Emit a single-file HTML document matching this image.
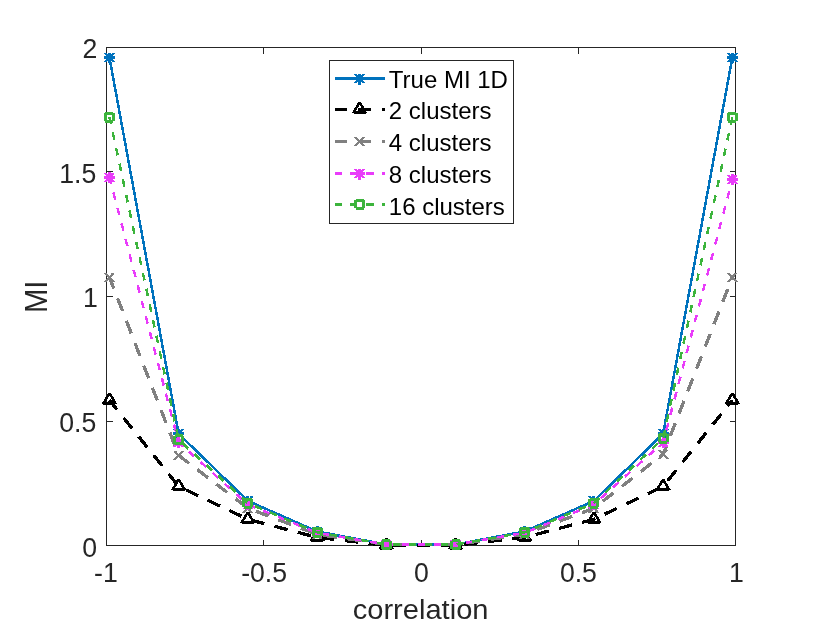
<!DOCTYPE html>
<html><head><meta charset="utf-8"><title>MI vs correlation</title>
<style>
html,body{margin:0;padding:0;background:#fff;}
svg{display:block;}
text{font-family:"Liberation Sans",Arial,Helvetica,sans-serif;fill:#262626;}
.tk{font-size:26.67px;}
.lb{font-size:29.33px;}
.lg{font-size:24px;fill:#000;}
</style></head><body>
<svg width="813" height="626" viewBox="0 0 813 626">
<defs>
<path id="mstar" d="M-5.4,-1.5 H5.4 V1.5 H-5.4ZM-1.5,-5 H1.5 V5.7 H-1.5ZM-5.6,-4.4 L-2.6,-4.4 L5.6,4.4 L2.6,4.4ZM2.6,-4.4 L5.6,-4.4 L-2.6,4.4 L-5.6,4.4Z"/>
<path id="mstar2" d="M-5.4,-1.5 H5.4 V1.5 H-5.4ZM-1.5,-4.4 H1.5 V6.3 H-1.5ZM-5.6,-4.4 L-2.6,-4.4 L5.6,4.4 L2.6,4.4ZM2.6,-4.4 L5.6,-4.4 L-2.6,4.4 L-5.6,4.4Z"/>
<path id="mtri" d="M-6,1.65 L6,1.65 L6,4.65 L-6,4.65ZM-1.5,-7.1 L1.5,-7.1 L-4.79,3.65 L-7.79,3.65ZM-1.5,-7.1 L1.5,-7.1 L7.79,3.65 L4.79,3.65Z"/>
<path id="mx" d="M-5.6,-4.4 L-2.6,-4.4 L5.6,4.4 L2.6,4.4ZM2.6,-4.4 L5.6,-4.4 L-2.6,4.4 L-5.6,4.4Z"/>
<path id="msq" d="M-4,-5.5 H4 V-2.5 H-4ZM-4,2.5 H4 V5.5 H-4ZM-5.5,-4 H-2.5 V4 H-5.5ZM2.5,-4 H5.5 V4 H2.5Z"/>
</defs>
<rect width="813" height="626" fill="#fff"/>

<g shape-rendering="crispEdges" stroke="#262626" stroke-width="1" fill="none">
<rect x="106.5" y="47.5" width="629.0" height="498.0"/>
<path d="M263.5,545.5 v-6 M263.5,47.5 v6"/>
<path d="M421.5,545.5 v-6 M421.5,47.5 v6"/>
<path d="M578.5,545.5 v-6 M578.5,47.5 v6"/>
<path d="M106.5,171.5 h6 M735.5,171.5 h-6"/>
<path d="M106.5,296.5 h6 M735.5,296.5 h-6"/>
<path d="M106.5,421.5 h6 M735.5,421.5 h-6"/>
</g>
<text class="tk" transform="translate(105.9,582) scale(1,1.04)" text-anchor="middle">-1</text>
<text class="tk" transform="translate(264.1,582) scale(1,1.04)" text-anchor="middle">-0.5</text>
<text class="tk" transform="translate(421.4,582) scale(1,1.04)" text-anchor="middle">0</text>
<text class="tk" transform="translate(578.4,582) scale(1,1.04)" text-anchor="middle">0.5</text>
<text class="tk" transform="translate(736.3,582) scale(1,1.04)" text-anchor="middle">1</text>
<text class="tk" transform="translate(97,556.7) scale(1,1.04)" text-anchor="end">0</text>
<text class="tk" transform="translate(96.2,431.8) scale(1,1.04)" text-anchor="end">0.5</text>
<text class="tk" transform="translate(97.8,307) scale(1,1.04)" text-anchor="end">1</text>
<text class="tk" transform="translate(96.2,182.6) scale(1,1.04)" text-anchor="end">1.5</text>
<text class="tk" transform="translate(97.3,58) scale(1,1.04)" text-anchor="end">2</text>
<text class="lb" style="font-size:29.1px" transform="translate(420.6,618.7) scale(1,0.98)" text-anchor="middle">correlation</text>
<text class="lb" transform="translate(47.1,296.8) rotate(-90) scale(1,1.04)" text-anchor="middle">MI</text>
<g id="data" shape-rendering="crispEdges">
<path fill="#0072BD" d="M110.68,57.32 L179.89,433.55 L177.43,434 L108.22,57.77ZM179.53,432.88 L248.74,500 L247,501.79 L177.79,434.67ZM248.37,499.75 L317.59,530.28 L316.58,532.57 L247.37,502.04ZM317.31,530.2 L386.53,543.27 L386.06,545.73 L316.85,532.66ZM386.29,543.25 L455.51,543.25 L455.51,545.75 L386.29,545.75ZM455.27,543.27 L524.49,530.2 L524.95,532.66 L455.74,545.73ZM524.21,530.28 L593.43,499.75 L594.43,502.04 L525.22,532.57ZM593.06,500 L662.27,432.88 L664.01,434.67 L594.8,501.79ZM661.91,433.55 L731.12,57.32 L733.58,57.77 L664.37,434Z"/>
<use href="#mstar" x="109.45" y="57.54" fill="#0072BD"/>
<use href="#mstar" x="178.66" y="433.78" fill="#0072BD"/>
<use href="#mstar" x="247.87" y="500.89" fill="#0072BD"/>
<use href="#mstar" x="317.08" y="531.43" fill="#0072BD"/>
<use href="#mstar" x="386.29" y="544.5" fill="#0072BD"/>
<use href="#mstar" x="455.51" y="544.5" fill="#0072BD"/>
<use href="#mstar" x="524.72" y="531.43" fill="#0072BD"/>
<use href="#mstar" x="593.93" y="500.89" fill="#0072BD"/>
<use href="#mstar" x="663.14" y="433.78" fill="#0072BD"/>
<use href="#mstar" x="732.35" y="57.54" fill="#0072BD"/>
<path fill="#000000" d="M110.74,399.16 L118.38,408.67 L115.79,410.76 L108.15,401.24ZM124.89,416.78 L133.41,427.38 L130.81,429.47 L122.3,418.86ZM139.92,435.49 L148.43,446.1 L145.84,448.18 L137.32,437.58ZM154.95,454.21 L163.46,464.81 L160.86,466.9 L152.35,456.29ZM169.97,472.92 L178.49,483.53 L175.89,485.61 L167.38,475.01ZM186.65,488.35 L198.93,494.19 L197.5,497.2 L185.22,491.36ZM208.32,498.66 L220.6,504.5 L219.17,507.5 L206.89,501.66ZM230,508.96 L242.28,514.8 L240.85,517.81 L228.57,511.97ZM251.6,518.55 L264.76,521.98 L263.92,525.21 L250.76,521.77ZM274.82,524.61 L287.98,528.04 L287.14,531.26 L273.98,527.83ZM298.04,530.66 L311.2,534.1 L310.36,537.32 L297.2,533.89ZM321.14,536.14 L334.65,537.69 L334.27,541 L320.76,539.45ZM344.98,538.88 L358.49,540.43 L358.11,543.74 L344.6,542.19ZM368.83,541.62 L382.34,543.17 L381.96,546.48 L368.45,544.93ZM392.52,543.63 L406.12,543.63 L406.12,546.96 L392.52,546.96ZM416.52,543.63 L430.12,543.63 L430.12,546.96 L416.52,546.96ZM440.52,543.63 L454.12,543.63 L454.12,546.96 L440.52,546.96ZM464.27,542.62 L477.78,541.07 L478.16,544.37 L464.65,545.93ZM488.11,539.88 L501.62,538.33 L502,541.63 L488.49,543.19ZM511.96,537.14 L524.53,535.7 L524.91,539 L512.34,540.45ZM524.3,535.74 L525.21,535.5 L526.05,538.72 L525.14,538.96ZM535.28,532.88 L548.44,529.44 L549.28,532.67 L536.12,536.1ZM558.5,526.82 L571.66,523.39 L572.5,526.61 L559.34,530.04ZM581.72,520.76 L593.51,517.69 L594.35,520.91 L582.56,523.99ZM593.22,517.8 L594.5,517.19 L595.93,520.19 L594.64,520.8ZM603.89,512.72 L616.17,506.88 L617.6,509.89 L605.32,515.73ZM625.57,502.42 L637.85,496.58 L639.28,499.59 L626.99,505.43ZM647.24,492.12 L659.52,486.28 L660.95,489.28 L648.67,495.12ZM666.34,479.75 L674.86,469.15 L677.45,471.24 L668.94,481.84ZM681.37,461.04 L689.88,450.44 L692.48,452.52 L683.96,463.13ZM696.39,442.33 L704.91,431.72 L707.51,433.81 L698.99,444.41ZM711.42,423.61 L719.94,413.01 L722.53,415.09 L714.02,425.7ZM726.45,404.9 L731.06,399.16 L733.65,401.24 L729.04,406.98Z"/>
<use href="#mtri" x="109.45" y="400.2" fill="#000000"/>
<use href="#mtri" x="178.66" y="486.4" fill="#000000"/>
<use href="#mtri" x="247.87" y="519.3" fill="#000000"/>
<use href="#mtri" x="317.08" y="537.35" fill="#000000"/>
<use href="#mtri" x="386.29" y="545.3" fill="#000000"/>
<use href="#mtri" x="455.51" y="545.3" fill="#000000"/>
<use href="#mtri" x="524.72" y="537.35" fill="#000000"/>
<use href="#mtri" x="593.93" y="519.3" fill="#000000"/>
<use href="#mtri" x="663.14" y="486.4" fill="#000000"/>
<use href="#mtri" x="732.35" y="400.2" fill="#000000"/>
<path fill="#808080" d="M111,276.7 L115.42,288.07 L112.31,289.27 L107.89,277.9ZM119.18,297.76 L124.11,310.44 L121.01,311.64 L116.08,298.97ZM127.88,320.13 L132.8,332.81 L129.7,334.02 L124.77,321.34ZM136.57,342.5 L141.5,355.18 L138.39,356.39 L133.47,343.71ZM145.26,364.87 L150.19,377.55 L147.09,378.76 L142.16,366.08ZM153.96,387.24 L158.88,399.92 L155.78,401.13 L150.85,388.45ZM162.65,409.61 L167.58,422.29 L164.47,423.5 L159.55,410.82ZM171.34,431.98 L176.27,444.66 L173.17,445.87 L168.24,433.19ZM180.04,454.35 L180.21,454.8 L177.11,456 L176.93,455.56ZM179.67,454.08 L190.1,462.04 L188.08,464.68 L177.65,456.72ZM198.37,468.34 L209.18,476.59 L207.16,479.24 L196.35,470.99ZM217.45,482.9 L228.27,491.15 L226.25,493.8 L215.43,485.55ZM236.53,497.46 L247.35,505.71 L245.33,508.35 L234.51,500.11ZM256.38,509.63 L269.11,514.43 L267.93,517.55 L255.21,512.75ZM278.84,518.1 L291.57,522.9 L290.39,526.01 L277.67,521.22ZM301.3,526.57 L314.02,531.37 L312.85,534.48 L300.12,529.68ZM323.76,533.6 L337.21,535.58 L336.73,538.88 L323.27,536.9ZM347.5,537.1 L360.96,539.08 L360.47,542.38 L347.02,540.39ZM371.24,540.6 L384.7,542.58 L384.21,545.88 L370.76,543.89ZM394.84,542.84 L408.44,542.84 L408.44,546.16 L394.84,546.16ZM418.84,542.84 L432.44,542.84 L432.44,546.16 L418.84,546.16ZM442.84,542.84 L455.51,542.84 L455.51,546.16 L442.84,546.16ZM455.26,542.85 L456.18,542.72 L456.67,546.01 L455.75,546.15ZM466.47,541.2 L479.93,539.22 L480.41,542.51 L466.96,544.5ZM490.22,537.7 L503.67,535.72 L504.16,539.01 L490.7,541ZM513.96,534.2 L524.48,532.65 L524.96,535.95 L514.45,537.5ZM524.13,532.74 L526.91,531.69 L528.09,534.81 L525.31,535.86ZM536.64,528.02 L549.37,523.23 L550.54,526.34 L537.82,531.14ZM559.1,519.56 L571.82,514.76 L573,517.87 L560.27,522.67ZM581.55,511.09 L593.34,506.64 L594.52,509.76 L582.73,514.2ZM592.91,506.89 L593.7,506.27 L595.74,508.9 L594.95,509.51ZM601.89,499.87 L612.62,491.51 L614.67,494.13 L603.94,502.5ZM620.82,485.11 L631.54,476.74 L633.59,479.37 L622.87,487.74ZM639.74,470.35 L650.46,461.98 L652.51,464.61 L641.79,472.97ZM658.66,455.58 L662.12,452.89 L664.17,455.51 L660.71,458.21ZM661.59,453.59 L664.95,445.01 L668.05,446.22 L664.69,454.81ZM668.74,435.33 L673.69,422.66 L676.79,423.87 L671.84,436.54ZM677.48,412.98 L682.44,400.31 L685.54,401.52 L680.58,414.19ZM686.23,390.63 L691.18,377.96 L694.28,379.17 L689.33,391.84ZM694.97,368.28 L699.93,355.61 L703.03,356.82 L698.07,369.49ZM703.72,345.92 L708.67,333.26 L711.77,334.47 L706.82,347.14ZM712.46,323.57 L717.42,310.91 L720.52,312.12 L715.56,324.79ZM721.21,301.22 L726.16,288.56 L729.26,289.77 L724.31,302.44ZM729.95,278.87 L730.8,276.69 L733.9,277.91 L733.05,280.09Z"/>
<use href="#mx" x="109.45" y="277.3" fill="#808080"/>
<use href="#mx" x="178.66" y="455.4" fill="#808080"/>
<use href="#mx" x="247.87" y="508.2" fill="#808080"/>
<use href="#mx" x="317.08" y="534.3" fill="#808080"/>
<use href="#mx" x="386.29" y="544.5" fill="#808080"/>
<use href="#mx" x="455.51" y="544.5" fill="#808080"/>
<use href="#mx" x="524.72" y="534.3" fill="#808080"/>
<use href="#mx" x="593.93" y="508.2" fill="#808080"/>
<use href="#mx" x="663.14" y="454.2" fill="#808080"/>
<use href="#mx" x="732.35" y="277.3" fill="#808080"/>
<path fill="#E93CFA" d="M110.66,176.98 L112.47,183.95 L110.06,184.58 L108.24,177.62ZM114.6,192.08 L116.52,199.43 L114.1,200.06 L112.18,192.71ZM118.64,207.56 L120.56,214.91 L118.14,215.54 L116.22,208.19ZM122.68,223.04 L124.6,230.39 L122.18,231.03 L120.26,223.67ZM126.72,238.52 L128.64,245.88 L126.22,246.51 L124.3,239.15ZM130.76,254 L132.68,261.36 L130.26,261.99 L128.34,254.63ZM134.81,269.48 L136.72,276.84 L134.31,277.47 L132.39,270.12ZM138.85,284.96 L140.77,292.32 L138.35,292.95 L136.43,285.6ZM142.89,300.45 L144.81,307.8 L142.39,308.43 L140.47,301.08ZM146.93,315.93 L148.85,323.28 L146.43,323.91 L144.51,316.56ZM150.97,331.41 L152.89,338.76 L150.47,339.39 L148.55,332.04ZM155.01,346.89 L156.93,354.24 L154.51,354.87 L152.6,347.52ZM159.06,362.37 L160.98,369.72 L158.56,370.36 L156.64,363ZM163.1,377.85 L165.02,385.2 L162.6,385.84 L160.68,378.48ZM167.14,393.33 L169.06,400.69 L166.64,401.32 L164.72,393.96ZM171.18,408.81 L173.1,416.17 L170.68,416.8 L168.76,409.45ZM175.22,424.29 L177.14,431.65 L174.72,432.28 L172.8,424.93ZM179.26,439.78 L179.87,442.08 L177.45,442.72 L176.85,440.41ZM179.49,441.47 L183.37,444.95 L181.7,446.81 L177.82,443.33ZM189.63,450.56 L195.28,455.64 L193.61,457.5 L187.96,452.42ZM201.53,461.25 L207.19,466.32 L205.52,468.18 L199.87,463.11ZM213.44,471.93 L219.1,477.01 L217.43,478.87 L211.77,473.79ZM225.35,482.62 L231.01,487.69 L229.34,489.55 L223.68,484.48ZM237.26,493.3 L242.92,498.38 L241.25,500.24 L235.59,495.16ZM248.92,503.58 L255.96,506.46 L255.01,508.77 L247.98,505.89ZM263.73,509.64 L270.77,512.51 L269.82,514.83 L262.79,511.95ZM278.54,515.69 L285.58,518.57 L284.63,520.88 L277.6,518.01ZM293.35,521.75 L300.39,524.62 L299.44,526.94 L292.41,524.06ZM308.16,527.8 L315.2,530.68 L314.25,532.99 L307.22,530.12ZM323.06,532.54 L330.55,533.81 L330.14,536.27 L322.64,535.01ZM338.84,535.21 L346.33,536.48 L345.91,538.94 L338.42,537.67ZM354.61,537.88 L362.11,539.14 L361.69,541.61 L354.2,540.34ZM370.39,540.54 L377.88,541.81 L377.47,544.28 L369.97,543.01ZM386.17,543.21 L386.5,543.27 L386.09,545.73 L385.75,545.68ZM386.29,543.25 L393.55,543.25 L393.55,545.75 L386.29,545.75ZM401.95,543.25 L409.55,543.25 L409.55,545.75 L401.95,545.75ZM417.95,543.25 L425.55,543.25 L425.55,545.75 L417.95,545.75ZM433.95,543.25 L441.55,543.25 L441.55,545.75 L433.95,545.75ZM449.95,543.25 L455.51,543.25 L455.51,545.75 L449.95,545.75ZM455.3,543.27 L457.32,542.93 L457.73,545.39 L455.71,545.73ZM465.6,541.53 L473.09,540.26 L473.51,542.72 L466.01,543.99ZM481.37,538.86 L488.87,537.59 L489.28,540.06 L481.79,541.32ZM497.15,536.19 L504.64,534.93 L505.06,537.39 L497.57,538.66ZM512.93,533.53 L520.42,532.26 L520.84,534.72 L513.34,535.99ZM528.18,530.03 L535.22,527.16 L536.16,529.47 L529.13,532.35ZM542.99,523.98 L550.03,521.1 L550.97,523.42 L543.94,526.29ZM557.8,517.92 L564.84,515.05 L565.78,517.36 L558.75,520.24ZM572.61,511.87 L579.64,508.99 L580.59,511.3 L573.56,514.18ZM587.42,505.81 L593.46,503.34 L594.4,505.66 L588.37,508.13ZM593.1,503.57 L593.9,502.85 L595.57,504.71 L594.76,505.43ZM600.15,497.24 L605.81,492.16 L607.48,494.03 L601.82,499.1ZM612.06,486.55 L617.72,481.48 L619.39,483.34 L613.73,488.42ZM623.97,475.87 L629.62,470.79 L631.29,472.65 L625.64,477.73ZM635.88,465.18 L641.53,460.11 L643.2,461.97 L637.55,467.04ZM647.79,454.5 L653.44,449.42 L655.11,451.28 L649.46,456.36ZM659.69,443.81 L662.31,441.47 L663.98,443.33 L661.36,445.67ZM661.93,442.08 L662.97,438.13 L665.39,438.76 L664.35,442.72ZM665.11,430 L667.05,422.65 L669.46,423.29 L667.53,430.64ZM669.18,414.53 L671.12,407.18 L673.54,407.82 L671.6,415.17ZM673.26,399.06 L675.19,391.71 L677.61,392.34 L675.67,399.69ZM677.33,383.58 L679.26,376.23 L681.68,376.87 L679.75,384.22ZM681.4,368.11 L683.33,360.76 L685.75,361.4 L683.82,368.75ZM685.47,352.64 L687.41,345.29 L689.82,345.92 L687.89,353.27ZM689.54,337.16 L691.48,329.81 L693.9,330.45 L691.96,337.8ZM693.62,321.69 L695.55,314.34 L697.97,314.98 L696.03,322.33ZM697.69,306.22 L699.62,298.87 L702.04,299.5 L700.11,306.85ZM701.76,290.74 L703.69,283.39 L706.11,284.03 L704.18,291.38ZM705.83,275.27 L707.77,267.92 L710.18,268.56 L708.25,275.91ZM709.9,259.8 L711.84,252.45 L714.26,253.08 L712.32,260.43ZM713.98,244.32 L715.91,236.98 L718.33,237.61 L716.39,244.96ZM718.05,228.85 L719.98,221.5 L722.4,222.14 L720.47,229.49ZM722.12,213.38 L724.05,206.03 L726.47,206.67 L724.54,214.01ZM726.19,197.91 L728.13,190.56 L730.54,191.19 L728.61,198.54ZM730.26,182.43 L731.15,179.08 L733.56,179.72 L732.68,183.07Z"/>
<use href="#mstar" x="109.45" y="177.3" fill="#E93CFA"/>
<use href="#mstar" x="178.66" y="442.4" fill="#E93CFA"/>
<use href="#mstar" x="247.87" y="504.5" fill="#E93CFA"/>
<use href="#mstar" x="317.08" y="532.8" fill="#E93CFA"/>
<use href="#mstar" x="386.29" y="544.5" fill="#E93CFA"/>
<use href="#mstar" x="455.51" y="544.5" fill="#E93CFA"/>
<use href="#mstar" x="524.72" y="532.8" fill="#E93CFA"/>
<use href="#mstar" x="593.93" y="504.5" fill="#E93CFA"/>
<use href="#mstar" x="663.14" y="442.4" fill="#E93CFA"/>
<use href="#mstar" x="732.35" y="179.4" fill="#E93CFA"/>
<path fill="#3CB43C" d="M110.67,116.74 L112.18,123.78 L109.73,124.3 L108.22,117.26ZM113.94,131.99 L115.53,139.42 L113.09,139.95 L111.5,132.52ZM117.29,147.64 L118.89,155.07 L116.44,155.59 L114.85,148.16ZM120.65,163.28 L122.24,170.71 L119.8,171.23 L118.21,163.8ZM124.01,178.92 L125.6,186.35 L123.16,186.88 L121.56,179.45ZM127.36,194.57 L128.95,202 L126.51,202.52 L124.92,195.09ZM130.72,210.21 L132.31,217.64 L129.87,218.17 L128.27,210.74ZM134.07,225.86 L135.67,233.29 L133.22,233.81 L131.63,226.38ZM137.43,241.5 L139.02,248.93 L136.58,249.46 L134.98,242.02ZM140.78,257.14 L142.38,264.58 L139.93,265.1 L138.34,257.67ZM144.14,272.79 L145.73,280.22 L143.29,280.74 L141.69,273.31ZM147.49,288.43 L149.09,295.86 L146.64,296.39 L145.05,288.96ZM150.85,304.08 L152.44,311.51 L150,312.03 L148.4,304.6ZM154.2,319.72 L155.8,327.15 L153.35,327.68 L151.76,320.25ZM157.56,335.37 L159.15,342.8 L156.71,343.32 L155.11,335.89ZM160.91,351.01 L162.51,358.44 L160.06,358.97 L158.47,351.53ZM164.27,366.65 L165.86,374.09 L163.42,374.61 L161.83,367.18ZM167.63,382.3 L169.22,389.73 L166.77,390.25 L165.18,382.82ZM170.98,397.94 L172.57,405.37 L170.13,405.9 L168.54,398.47ZM174.34,413.59 L175.93,421.02 L173.49,421.54 L171.89,414.11ZM177.69,429.23 L179.28,436.66 L176.84,437.19 L175.25,429.76ZM183.6,442.54 L189.2,447.68 L187.51,449.52 L181.91,444.38ZM195.39,453.36 L200.99,458.49 L199.3,460.34 L193.7,455.2ZM207.18,464.17 L212.78,469.31 L211.09,471.15 L205.49,466.01ZM218.97,474.99 L224.57,480.13 L222.88,481.97 L217.28,476.83ZM230.76,485.81 L236.36,490.94 L234.67,492.79 L229.07,487.65ZM242.55,496.62 L248.15,501.76 L246.46,503.6 L240.86,498.46ZM255.39,505.01 L262.4,507.95 L261.43,510.26 L254.42,507.31ZM270.14,511.21 L277.15,514.15 L276.18,516.46 L269.17,513.51ZM284.89,517.41 L291.9,520.35 L290.93,522.66 L283.92,519.71ZM299.64,523.61 L306.64,526.56 L305.68,528.86 L298.67,525.91ZM314.39,529.81 L317.57,531.15 L316.6,533.45 L313.42,532.12ZM317.3,531.07 L321.39,531.79 L320.95,534.25 L316.87,533.53ZM329.66,533.25 L337.15,534.57 L336.71,537.03 L329.23,535.71ZM345.42,536.03 L352.9,537.34 L352.47,539.81 L344.98,538.49ZM361.17,538.8 L368.66,540.12 L368.23,542.58 L360.74,541.26ZM376.93,541.58 L384.42,542.9 L383.98,545.36 L376.5,544.04ZM392.57,543.25 L400.17,543.25 L400.17,545.75 L392.57,545.75ZM408.57,543.25 L416.17,543.25 L416.17,545.75 L408.57,545.75ZM424.57,543.25 L432.17,543.25 L432.17,545.75 L424.57,545.75ZM440.57,543.25 L448.17,543.25 L448.17,545.75 L440.57,545.75ZM456.33,543.08 L463.82,541.77 L464.25,544.23 L456.77,545.55ZM472.09,540.31 L479.58,538.99 L480.01,541.45 L472.53,542.77ZM487.85,537.53 L495.33,536.21 L495.77,538.67 L488.28,539.99ZM503.61,534.75 L511.09,533.43 L511.52,535.9 L504.04,537.21ZM519.36,531.97 L524.5,531.07 L524.93,533.53 L519.8,534.44ZM524.23,531.15 L526.43,530.22 L527.4,532.53 L525.2,533.45ZM534.17,526.97 L541.18,524.02 L542.15,526.33 L535.14,529.27ZM548.92,520.77 L555.93,517.82 L556.9,520.13 L549.89,523.07ZM563.67,514.57 L570.68,511.62 L571.65,513.93 L564.64,516.87ZM578.42,508.36 L585.43,505.42 L586.4,507.72 L579.39,510.67ZM593.17,502.16 L593.45,502.05 L594.41,504.35 L594.14,504.47ZM593.08,502.29 L598.41,497.3 L600.11,499.12 L594.78,504.11ZM604.54,491.56 L610.09,486.36 L611.79,488.19 L606.25,493.38ZM616.22,480.62 L621.77,475.43 L623.47,477.25 L617.93,482.45ZM627.9,469.69 L633.45,464.49 L635.15,466.32 L629.61,471.51ZM639.58,458.75 L645.13,453.56 L646.83,455.38 L641.29,460.58ZM651.26,447.82 L656.8,442.62 L658.51,444.45 L652.97,449.64ZM662.11,437.27 L663.71,429.84 L666.15,430.36 L664.55,437.79ZM665.48,421.63 L667.08,414.2 L669.52,414.72 L667.92,422.15ZM668.85,405.99 L670.45,398.56 L672.89,399.08 L671.29,406.51ZM672.22,390.34 L673.82,382.91 L676.26,383.44 L674.66,390.87ZM675.58,374.7 L677.18,367.27 L679.63,367.8 L678.03,375.23ZM678.95,359.06 L680.55,351.63 L683,352.16 L681.4,359.59ZM682.32,343.42 L683.92,335.99 L686.37,336.52 L684.77,343.95ZM685.69,327.78 L687.29,320.35 L689.74,320.88 L688.14,328.31ZM689.06,312.14 L690.66,304.71 L693.11,305.23 L691.51,312.66ZM692.43,296.5 L694.03,289.07 L696.48,289.59 L694.88,297.02ZM695.8,280.86 L697.4,273.43 L699.84,273.95 L698.24,281.38ZM699.17,265.21 L700.77,257.78 L703.21,258.31 L701.61,265.74ZM702.54,249.57 L704.14,242.14 L706.58,242.67 L704.98,250.1ZM705.91,233.93 L707.51,226.5 L709.95,227.03 L708.35,234.46ZM709.28,218.29 L710.88,210.86 L713.32,211.39 L711.72,218.82ZM712.65,202.65 L714.25,195.22 L716.69,195.75 L715.09,203.18ZM716.02,187.01 L717.62,179.58 L720.06,180.1 L718.46,187.53ZM719.39,171.37 L720.99,163.94 L723.43,164.46 L721.83,171.89ZM722.75,155.73 L724.36,148.3 L726.8,148.82 L725.2,156.25ZM726.12,140.08 L727.72,132.65 L730.17,133.18 L728.57,140.61ZM729.49,124.44 L731.09,117.01 L733.54,117.54 L731.94,124.97Z"/>
<use href="#msq" x="109.45" y="117" fill="#3CB43C"/>
<use href="#msq" x="178.66" y="439.7" fill="#3CB43C"/>
<use href="#msq" x="247.87" y="503.2" fill="#3CB43C"/>
<use href="#msq" x="317.08" y="532.3" fill="#3CB43C"/>
<use href="#msq" x="386.29" y="544.5" fill="#3CB43C"/>
<use href="#msq" x="455.51" y="544.5" fill="#3CB43C"/>
<use href="#msq" x="524.72" y="532.3" fill="#3CB43C"/>
<use href="#msq" x="593.93" y="503.2" fill="#3CB43C"/>
<use href="#msq" x="663.14" y="438.4" fill="#3CB43C"/>
<use href="#msq" x="732.35" y="117.1" fill="#3CB43C"/>
</g>
<rect x="329.5" y="60.5" width="184.0" height="163.0" fill="#fff" stroke="#262626" stroke-width="1" shape-rendering="crispEdges"/>
<g shape-rendering="crispEdges">
<path fill="#0072BD" d="M335,77.25 H385 V79.75 H335Z"/>
<use href="#mstar2" x="359.6" y="78.5" fill="#0072BD"/>
<path fill="#000000" d="M335,107.73 H346.9 V111.07 H335ZM357.8,107.73 H371 V111.07 H357.8ZM381.7,107.73 H385 V111.07 H381.7Z"/>
<use href="#mtri" x="359.6" y="109.4" fill="#000000"/>
<path fill="#808080" d="M335,139.74 H346.9 V143.06 H335ZM357.8,139.74 H371 V143.06 H357.8ZM381.7,139.74 H385 V143.06 H381.7Z"/>
<use href="#mx" x="359.6" y="141.4" fill="#808080"/>
<path fill="#E93CFA" d="M335,172.15 H342 V174.65 H335ZM349.8,172.15 H357.2 V174.65 H349.8ZM366.1,172.15 H373.6 V174.65 H366.1ZM382,172.15 H385 V174.65 H382Z"/>
<use href="#mstar2" x="359.6" y="173.4" fill="#E93CFA"/>
<path fill="#3CB43C" d="M335,203.15 H342 V205.65 H335ZM349.8,203.15 H357.2 V205.65 H349.8ZM366.1,203.15 H373.6 V205.65 H366.1ZM382,203.15 H385 V205.65 H382Z"/>
<use href="#msq" x="359.6" y="204.4" fill="#3CB43C"/>
</g>
<text class="lg" x="388.8" y="87.6">True MI 1D</text>
<text class="lg" x="388.8" y="119.33">2 clusters</text>
<text class="lg" x="388.8" y="151.06">4 clusters</text>
<text class="lg" x="388.8" y="182.79">8 clusters</text>
<text class="lg" x="388.8" y="214.52">16 clusters</text>
</svg></body></html>
